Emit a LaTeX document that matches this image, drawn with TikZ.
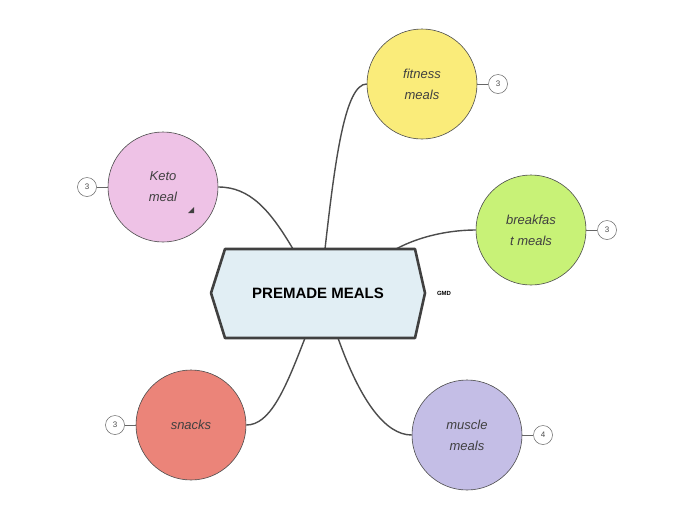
\documentclass[tikz,border=0pt]{standalone}
\usepackage{fontspec}
\setmainfont{Liberation Sans}
\begin{document}
\begin{tikzpicture}[x=1pt,y=-1pt,
  topic/.style={circle,draw=black!70,line width=0.6pt,minimum size=110pt,align=center,font=\itshape\fontsize{13}{21}\selectfont,text=black!75},
  badge/.style={circle,draw=black!60,line width=0.5pt,minimum size=19pt,inner sep=0pt,font=\fontsize{8}{8}\selectfont,text=black!70},
  link/.style={draw=black!70,line width=1.4pt},
  blink/.style={draw=black!60,line width=0.5pt}]
\useasboundingbox (0,0) rectangle (696,520);
\fill[white] (0,0) rectangle (696,520);
\coordinate (h1) at (225,249); \coordinate (h2) at (415,249); \coordinate (h3) at (425,293);
\coordinate (h4) at (415,338); \coordinate (h5) at (225,338); \coordinate (h6) at (211,293);
\node (fit) [topic,fill={rgb,255:red,250;green,236;blue,122}] at (422,84) {fitness\\meals};
\node (keto) [topic,fill={rgb,255:red,238;green,194;blue,230}] at (163,187) {Keto\\meal};
\node (bre) [topic,fill={rgb,255:red,200;green,242;blue,119}] at (531,230) {breakfas\\t meals};
\node (sna) [topic,fill={rgb,255:red,235;green,132;blue,121}] at (191,425) {snacks};
\node (mus) [topic,fill={rgb,255:red,196;green,190;blue,230}] at (467,435) {muscle\\meals};
\fill[black!75] (194,207) -- (194,213) -- (188,213) -- cycle;
\draw[link] (325,249) .. controls (335,160) and (345,84) .. (fit.west);
\draw[link] (293,249) .. controls (270,210) and (250,187) .. (keto.east);
\draw[link] (396,249) .. controls (420,236) and (450,230) .. (bre.west);
\draw[link] (305,338) .. controls (285,390) and (270,425) .. (sna.east);
\draw[link] (338,338) .. controls (360,400) and (385,435) .. (mus.west);
\draw[line width=2.6pt,draw=black!75,fill={rgb,255:red,225;green,238;blue,244},line join=round] (h1)--(h2)--(h3)--(h4)--(h5)--(h6)--cycle;
\node (main) at (318,293) {\bfseries\fontsize{15}{15}\selectfont PREMADE MEALS};
\node (gmd) at (444,293) {\bfseries\fontsize{6}{6}\selectfont GMD};
\node (b1) [badge] at (498,84) {3}; \draw[blink] (fit.east) -- (b1);
\node (b2) [badge] at (87,187) {3}; \draw[blink] (keto.west) -- (b2);
\node (b3) [badge] at (607,230) {3}; \draw[blink] (bre.east) -- (b3);
\node (b4) [badge] at (115,425) {3}; \draw[blink] (sna.west) -- (b4);
\node (b5) [badge] at (543,435) {4}; \draw[blink] (mus.east) -- (b5);
\end{tikzpicture}
\end{document}
